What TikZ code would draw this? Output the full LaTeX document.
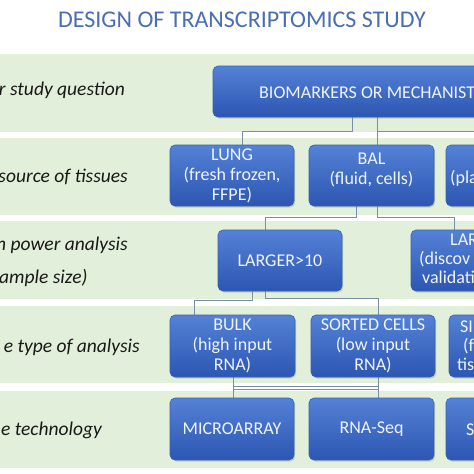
\documentclass[tikz,border=0pt]{standalone}
\usepackage{fontspec}
\setmainfont{Carlito}
\usetikzlibrary{shadows}
\definecolor{bandgreen}{HTML}{E2EFDA}
\definecolor{titleblue}{RGB}{74,110,178}
\definecolor{boxtop}{RGB}{84,130,214}
\definecolor{boxbot}{RGB}{44,86,178}
\definecolor{boxedge}{RGB}{58,96,176}
\definecolor{conncol}{RGB}{122,143,166}
\definecolor{boxtext}{RGB}{240,244,252}
\definecolor{lbltext}{RGB}{25,25,25}
\begin{document}
\begin{tikzpicture}[x=1pt,y=-1pt,
  bx/.style={rectangle, rounded corners=5pt, top color=boxtop, bottom color=boxbot,
    draw=boxedge, line width=0.6pt,
    drop shadow={opacity=0.3, shadow xshift=1.2pt, shadow yshift=-1.5pt},
    text=boxtext, font=\fontsize{18}{20}\selectfont, align=center, inner sep=0pt},
  boxtxt/.style={text=boxtext, font=\fontsize{18}{20}\selectfont, align=center, inner sep=0pt},
  frag/.style={anchor=base west, text=boxtext, font=\fontsize{18}{20}\selectfont, inner sep=0pt},
  lbl/.style={anchor=base east, text=lbltext, font=\fontsize{19.5}{22}\selectfont\itshape, inner sep=0pt},
  connector/.style={draw=conncol, line width=0.8pt}]
\useasboundingbox (0,0) rectangle (474,474);
\fill[white] (0,0) rectangle (474,474);
\clip (0,0) rectangle (474,474);

% title
\node[anchor=base, font=\fontsize{24}{28}\selectfont, text=titleblue, inner sep=0pt] (title) at (242,27) {DESIGN OF TRANSCRIPTOMICS STUDY};

% bands
\fill[bandgreen] (0,54) rectangle (474,132);
\fill[bandgreen] (0,138) rectangle (474,215);
\fill[bandgreen] (0,221) rectangle (474,299);
\fill[bandgreen] (0,306) rectangle (474,383);
\fill[bandgreen] (0,391) rectangle (474,468);

% left labels
\node[lbl] (q1) at (125,95) {r study question};
\node[lbl] (q2) at (128,182) {source of tissues};
\node[lbl] (q3a) at (128,250) {n power analysis};
\node[lbl, anchor=base west] (q3b) at (-1,283) {ample size)};
\node[lbl] (q4) at (140,352) {e type of analysis};
\node[lbl] (q5) at (102,435) {e technology};

% box positions (boxes drawn after connectors)
\path (374.5,91.5) node[minimum width=323, minimum height=51, inner sep=0pt] (b1) {};
\path (232,175.5) node[minimum width=124, minimum height=61, inner sep=0pt] (lung) {};
\path (371.5,175.5) node[minimum width=125, minimum height=61, inner sep=0pt] (bal) {};
\path (508.5,175.5) node[minimum width=125, minimum height=61, inner sep=0pt] (blood) {};
\path (280,260.5) node[minimum width=124, minimum height=61, inner sep=0pt] (larger) {};
\path (473,260.5) node[minimum width=124, minimum height=61, inner sep=0pt] (lar) {};
\path (232.5,346) node[minimum width=125, minimum height=62, inner sep=0pt] (bulk) {};
\path (373,346) node[minimum width=124, minimum height=62, inner sep=0pt] (sorted) {};
\path (511.5,346) node[minimum width=125, minimum height=62, inner sep=0pt] (single) {};
\path (232,429) node[minimum width=124, minimum height=62, inner sep=0pt] (micro) {};
\path (371.5,429) node[minimum width=125, minimum height=62, inner sep=0pt] (rnaseq) {};
\path (508.5,429) node[minimum width=125, minimum height=62, inner sep=0pt] (tech3) {};

% connectors
\draw[connector] (b1.south -| 352,0) |- (242,131) -- (lung.north -| 242,0);
\draw[connector] (b1.south -| 377,0) -- (bal.north -| 377,0);
\draw[connector] (b1.south -| 377,0) |- (blood.north |- 0,131) -- (blood.north);
\draw[connector] (bal.south -| 356,0) |- (265,217) -- (larger.north -| 265,0);
\draw[connector] (bal.south -| 377,0) |- (454,217) -- (lar.north -| 454,0);
\draw[connector] (larger.south -| 252,0) |- (194,300) -- (bulk.north -| 194,0);
\draw[connector] (larger.south -| 265,0) |- (378,298) -- (sorted.north -| 378,0);
\draw[connector] (bulk.south -| 233,0) -- (micro.north -| 233,0);
\draw[connector] (bulk.south -| 233,0) |- (378,386) -- (rnaseq.north -| 378,0);
\draw[connector] (sorted.south -| 378,0) -- (rnaseq.north -| 378,0);
\draw[connector] (sorted.south -| 378,0) |- (233,389);

% boxes
\node[bx, minimum width=323, minimum height=51] (b1box) at (b1) {};
\node[bx, minimum width=124, minimum height=61] (lungbox) at (lung) {LUNG\\(fresh frozen,\\FFPE)};
\node[bx, minimum width=125, minimum height=61] (balbox) at (bal) {};
\node[bx, minimum width=125, minimum height=61] (bloodbox) at (blood) {};
\node[bx, minimum width=124, minimum height=61] (largerbox) at (larger) {LARGER>10};
\node[bx, minimum width=124, minimum height=61] (larbox) at (lar) {};
\node[bx, minimum width=125, minimum height=62] (bulkbox) at (bulk) {BULK\\(high input\\RNA)};
\node[bx, minimum width=124, minimum height=62] (sortedbox) at (sorted) {SORTED CELLS\\(low input\\RNA)};
\node[bx, minimum width=125, minimum height=62] (singlebox) at (single) {};
\node[bx, minimum width=124, minimum height=62] (microbox) at (micro) {MICROARRAY};
\node[bx, minimum width=125, minimum height=62] (rnaseqbox) at (rnaseq) {RNA-Seq};
\node[bx, minimum width=125, minimum height=62] (tech3box) at (tech3) {};

% texts placed on boxes
\node[boxtxt] (balt) at (371.5,170) {BAL\\(fluid, cells)};
\node[frag] (t1) at (259,98) {BIOMARKERS OR MECHANIST};
\node[frag] (t2) at (450,183) {(pla};
\node[frag] (t3a) at (450,245) {LAR};
\node[frag] (t3b) at (419,264) {(discov};
\node[frag] (t3c) at (422,283) {validati};
\node[frag] (t4a) at (460,332) {SI};
\node[frag] (t4b) at (463,351) {(f};
\node[frag] (t4c) at (457,370) {tis};
\node[frag] (t5) at (466,435) {S};
\end{tikzpicture}
\end{document}
